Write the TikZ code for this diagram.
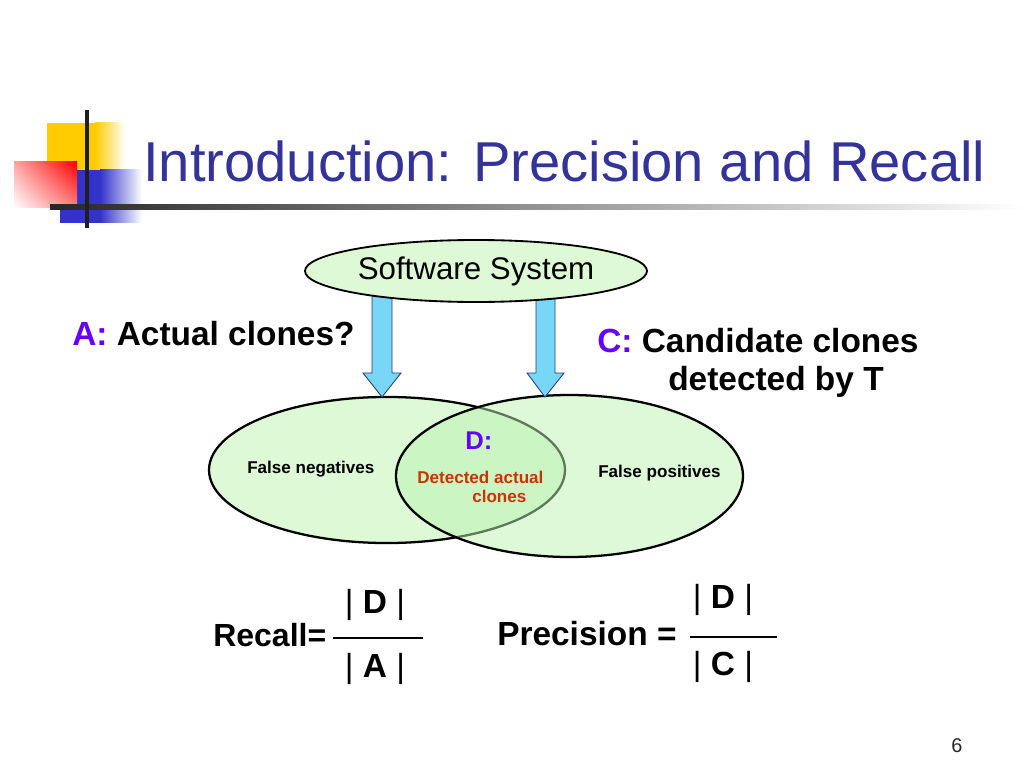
\documentclass[tikz,border=0pt]{standalone}
\usepackage{fontspec}
\setmainfont{Liberation Sans}
\usetikzlibrary{positioning, shapes.geometric, shadings}

\definecolor{titleblue}{RGB}{51,51,153}
\definecolor{setpurple}{RGB}{102,0,255}
\definecolor{detorange}{RGB}{204,51,0}
\definecolor{setgreen}{RGB}{221,249,214}
\definecolor{setgreenC}{RGB}{187,243,177}
\definecolor{arrowcyan}{RGB}{120,214,247}
\definecolor{arrowline}{RGB}{30,60,120}
\definecolor{logoyellow}{RGB}{255,204,0}
\definecolor{logoblue}{RGB}{51,51,204}

\begin{document}
\begin{tikzpicture}[x=0.703125pt, y=-0.703125pt,
        setshape/.style={ellipse, draw=black, line width=1.6pt, inner sep=0pt},
        bigtext/.style={inner sep=0pt, font=\fontsize{23.5}{28}\selectfont\bfseries},
        smalltext/.style={inner sep=0pt, font=\fontsize{12}{14.5}\selectfont\bfseries},
        blockarrow/.style={fill=arrowcyan, draw=arrowline, line width=0.6pt, line join=miter},
        fracbar/.style={line width=2.1pt}]
        \useasboundingbox (0,0) rectangle (1024,768);
        % logo
        \fill[logoyellow] (47,123) rectangle (95,200);
        \shade[left color=logoyellow, right color=white] (95,123) rectangle (125,200);
        \fill[logoblue] (60,170) rectangle (100,223);
        \shade[left color=logoblue, right color=white] (100,170) rectangle (142,223);
        \shade[upper right=red, lower left=white, upper left=red!35, lower right=red!50] (14,162) rectangle (77,208);
        \shade[left color=black!85, right color=white] (50,204.5) rectangle (1024,209.5);
        \draw[line width=3pt, black!88] (87,110) -- (87,228);
        \node[anchor=base west, inner sep=0pt, text=titleblue, font=\fontsize{39.5}{47}\selectfont] (title) at (143,182) {Introduction: Precision and Recall};
        % sets
        \node[setshape, fill=setgreen, minimum width=250.3pt, minimum height=102.7pt] (setA) at (387,470) {};
        \node[setshape, fill=setgreenC, fill opacity=0.5, minimum width=244pt, minimum height=113.9pt] (setC) at (569.5,476) {};
        \coordinate (tipA) at (382,397);
        \coordinate (tipC) at (545,397);
        \draw[blockarrow] (tipA) -- ++(-19,-24) -- ++(9,0) -- ++(0,-80) -- ++(20,0) -- ++(0,80) -- ++(9,0) -- cycle;
        \draw[blockarrow] (tipC) -- ++(-18,-24) -- ++(9,0) -- ++(0,-80) -- ++(19,0) -- ++(0,80) -- ++(9,0) -- cycle;
        \node[ellipse, draw=black, line width=1.3pt, fill=setgreen, inner sep=0pt, minimum width=240.5pt, minimum height=43.6pt, font=\fontsize{22}{26}\selectfont] (sys) at (476,271) {Software System};
        % labels
        \node[bigtext, anchor=base west] (labA) at (72,345) {\textcolor{setpurple}{A:} Actual clones?};
        \node[bigtext, anchor=base west] (labC) at (597,352) {\textcolor{setpurple}{C:} Candidate clones};
        \node[bigtext, anchor=base west] (labC2) at (668,390) {detected by T};
        \node[smalltext, anchor=base west] (fneg) at (247,473) {False negatives};
        \node[smalltext, anchor=base west] (fpos) at (598,477) {False positives};
        \node[inner sep=0pt, anchor=base west, text=setpurple, font=\fontsize{18}{21}\selectfont\bfseries] (labD) at (465,449) {D:};
        \node[smalltext, anchor=base west, text=detorange] (det1) at (417,483) {Detected actual};
        \node[smalltext, anchor=base west, text=detorange] (det2) at (472,502) {clones};
        % formulas
        \node[bigtext, anchor=base west, font=\fontsize{22.5}{27}\selectfont\bfseries] (recall) at (213,646) {Recall=};
        \coordinate (rbarL) at (333,638);
        \coordinate (rbarR) at (423,638);
        \draw[fracbar] (rbarL) -- (rbarR);
        \node[bigtext, anchor=base] (recD) at (375,613) {\textmd{|} D \textmd{|}};
        \node[bigtext, anchor=base] (recA) at (375,677) {\textmd{|} A \textmd{|}};
        \node[bigtext, anchor=base west] (prec) at (497,645) {Precision =};
        \coordinate (pbarL) at (690,637);
        \coordinate (pbarR) at (777,637);
        \draw[fracbar] (pbarL) -- (pbarR);
        \node[bigtext, anchor=base] (precD) at (723,608) {\textmd{|} D \textmd{|}};
        \node[bigtext, anchor=base] (precC) at (723,675) {\textmd{|} C \textmd{|}};
        \node[inner sep=0pt, anchor=base, text=black!85, font=\fontsize{14}{16}\selectfont] (pagenum) at (957,752) {6};
\end{tikzpicture}
\end{document}
